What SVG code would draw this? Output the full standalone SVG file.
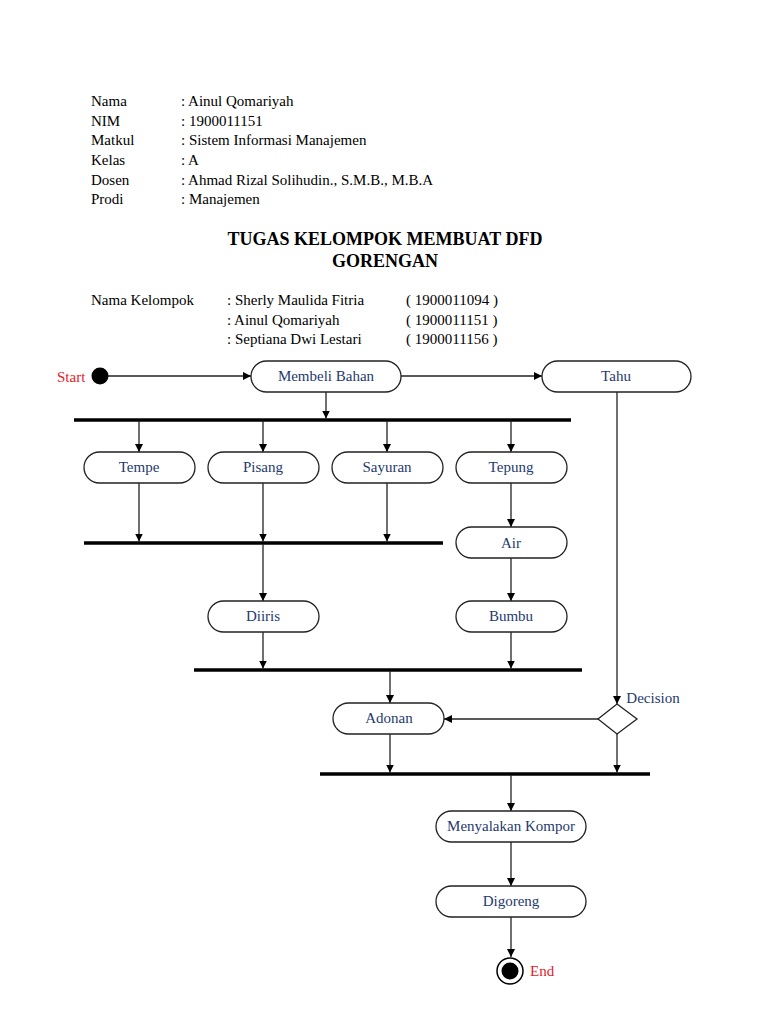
<svg xmlns="http://www.w3.org/2000/svg" width="768" height="1024" viewBox="0 0 768 1024">
<style>
text{font-family:"Liberation Serif","Times New Roman",serif;}
.h{font-size:15px;fill:#000;}
.t{font-size:18px;font-weight:bold;fill:#000;}
.n{font-size:15px;fill:#1f3a6e;text-anchor:middle;}
.r{font-size:15px;fill:#e8202a;}
.box{fill:#fff;stroke:#222;stroke-width:1.3;}
.ln{stroke:#222;stroke-width:1.3;fill:none;}
.bar{stroke:#000;stroke-width:3.5;}
</style>
<defs>
<marker id="a" viewBox="0 0 10 10" refX="10" refY="5" markerWidth="8" markerHeight="8" markerUnits="userSpaceOnUse" orient="auto">
<path d="M0,0 L10,5 L0,10 z" fill="#000"/>
</marker>
</defs>
<rect width="768" height="1024" fill="#fff"/>
<g id="header">
<text class="h" x="91" y="106">Nama</text><text class="h" x="181" y="106">: Ainul Qomariyah</text>
<text class="h" x="91" y="126">NIM</text><text class="h" x="181" y="126">: 1900011151</text>
<text class="h" x="91" y="145">Matkul</text><text class="h" x="181" y="145">: Sistem Informasi Manajemen</text>
<text class="h" x="91" y="165">Kelas</text><text class="h" x="181" y="165">: A</text>
<text class="h" x="91" y="185">Dosen</text><text class="h" x="181" y="185">: Ahmad Rizal Solihudin., S.M.B., M.B.A</text>
<text class="h" x="91" y="204">Prodi</text><text class="h" x="181" y="204">: Manajemen</text>
<text class="t" x="385" y="245" text-anchor="middle">TUGAS KELOMPOK MEMBUAT DFD</text>
<text class="t" x="385" y="267" text-anchor="middle">GORENGAN</text>
<text class="h" x="91" y="305">Nama Kelompok</text>
<text class="h" x="227" y="305">: Sherly Maulida Fitria</text><text class="h" x="406" y="305">( 1900011094 )</text>
<text class="h" x="227" y="325">: Ainul Qomariyah</text><text class="h" x="406" y="325">( 1900011151 )</text>
<text class="h" x="227" y="344">: Septiana Dwi Lestari</text><text class="h" x="406" y="344">( 1900011156 )</text>
</g>
<g id="connectors">
<line class="ln" x1="108" y1="376" x2="251" y2="376" marker-end="url(#a)"/>
<line class="ln" x1="401" y1="376" x2="542" y2="376" marker-end="url(#a)"/>
<line class="ln" x1="326" y1="392" x2="326" y2="418.5" marker-end="url(#a)"/>
<line class="bar" x1="74" y1="420" x2="571" y2="420"/>
<line class="ln" x1="139" y1="421" x2="139" y2="452" marker-end="url(#a)"/>
<line class="ln" x1="263" y1="421" x2="263" y2="452" marker-end="url(#a)"/>
<line class="ln" x1="387" y1="421" x2="387" y2="452" marker-end="url(#a)"/>
<line class="ln" x1="511" y1="421" x2="511" y2="452" marker-end="url(#a)"/>
<line class="ln" x1="139" y1="483" x2="139" y2="541.5" marker-end="url(#a)"/>
<line class="ln" x1="263" y1="483" x2="263" y2="541.5" marker-end="url(#a)"/>
<line class="ln" x1="387" y1="483" x2="387" y2="541.5" marker-end="url(#a)"/>
<line class="bar" x1="84" y1="543" x2="443" y2="543"/>
<line class="ln" x1="511" y1="483" x2="511" y2="527" marker-end="url(#a)"/>
<line class="ln" x1="263" y1="544" x2="263" y2="601" marker-end="url(#a)"/>
<line class="ln" x1="511" y1="558" x2="511" y2="601" marker-end="url(#a)"/>
<line class="ln" x1="263" y1="632" x2="263" y2="668.5" marker-end="url(#a)"/>
<line class="ln" x1="511" y1="632" x2="511" y2="668.5" marker-end="url(#a)"/>
<line class="bar" x1="194" y1="670" x2="582" y2="670"/>
<line class="ln" x1="390" y1="671" x2="390" y2="703" marker-end="url(#a)"/>
<line class="ln" x1="617" y1="392" x2="617" y2="704" marker-end="url(#a)"/>
<line class="ln" x1="598" y1="719" x2="444" y2="719" marker-end="url(#a)"/>
<line class="ln" x1="390" y1="734" x2="390" y2="772.5" marker-end="url(#a)"/>
<line class="ln" x1="617" y1="734" x2="617" y2="772.5" marker-end="url(#a)"/>
<line class="bar" x1="320" y1="774" x2="650" y2="774"/>
<line class="ln" x1="511" y1="775" x2="511" y2="811" marker-end="url(#a)"/>
<line class="ln" x1="511" y1="842" x2="511" y2="886" marker-end="url(#a)"/>
<line class="ln" x1="511" y1="917" x2="511" y2="957" marker-end="url(#a)"/>
</g>
<g id="start"><circle cx="100" cy="376" r="8.5" fill="#000"/><text class="r" x="57" y="382">Start</text></g>
<g id="membeli"><rect class="box" x="251" y="361" width="150" height="31" rx="15.5"/><text class="n" x="326" y="381">Membeli Bahan</text></g>
<g id="tahu"><rect class="box" x="542" y="361" width="149" height="31" rx="15.5"/><text class="n" x="616" y="381">Tahu</text></g>
<g id="tempe"><rect class="box" x="84" y="452" width="111" height="31" rx="15.5"/><text class="n" x="139" y="472">Tempe</text></g>
<g id="pisang"><rect class="box" x="208" y="452" width="111" height="31" rx="15.5"/><text class="n" x="263" y="472">Pisang</text></g>
<g id="sayuran"><rect class="box" x="332" y="452" width="111" height="31" rx="15.5"/><text class="n" x="387" y="472">Sayuran</text></g>
<g id="tepung"><rect class="box" x="456" y="452" width="111" height="31" rx="15.5"/><text class="n" x="511" y="472">Tepung</text></g>
<g id="air"><rect class="box" x="456" y="527" width="111" height="31" rx="15.5"/><text class="n" x="511" y="548">Air</text></g>
<g id="diiris"><rect class="box" x="208" y="601" width="111" height="31" rx="15.5"/><text class="n" x="263" y="621">Diiris</text></g>
<g id="bumbu"><rect class="box" x="456" y="601" width="111" height="31" rx="15.5"/><text class="n" x="511" y="621">Bumbu</text></g>
<g id="adonan"><rect class="box" x="333" y="703" width="111" height="31" rx="15.5"/><text class="n" x="389" y="723">Adonan</text></g>
<g id="decision"><path class="box" d="M617,704 L637,719 L617,734 L598,719 Z"/><text class="n" x="653" y="703">Decision</text></g>
<g id="kompor"><rect class="box" x="436" y="811" width="150" height="31" rx="15.5"/><text class="n" x="511" y="831">Menyalakan Kompor</text></g>
<g id="digoreng"><rect class="box" x="436" y="886" width="150" height="31" rx="15.5"/><text class="n" x="511" y="906">Digoreng</text></g>
<g id="end"><circle cx="510" cy="971" r="13" fill="#fff" stroke="#000" stroke-width="1.5"/><circle cx="510" cy="971" r="8.5" fill="#000"/><text class="r" x="530" y="976">End</text></g>
</svg>
